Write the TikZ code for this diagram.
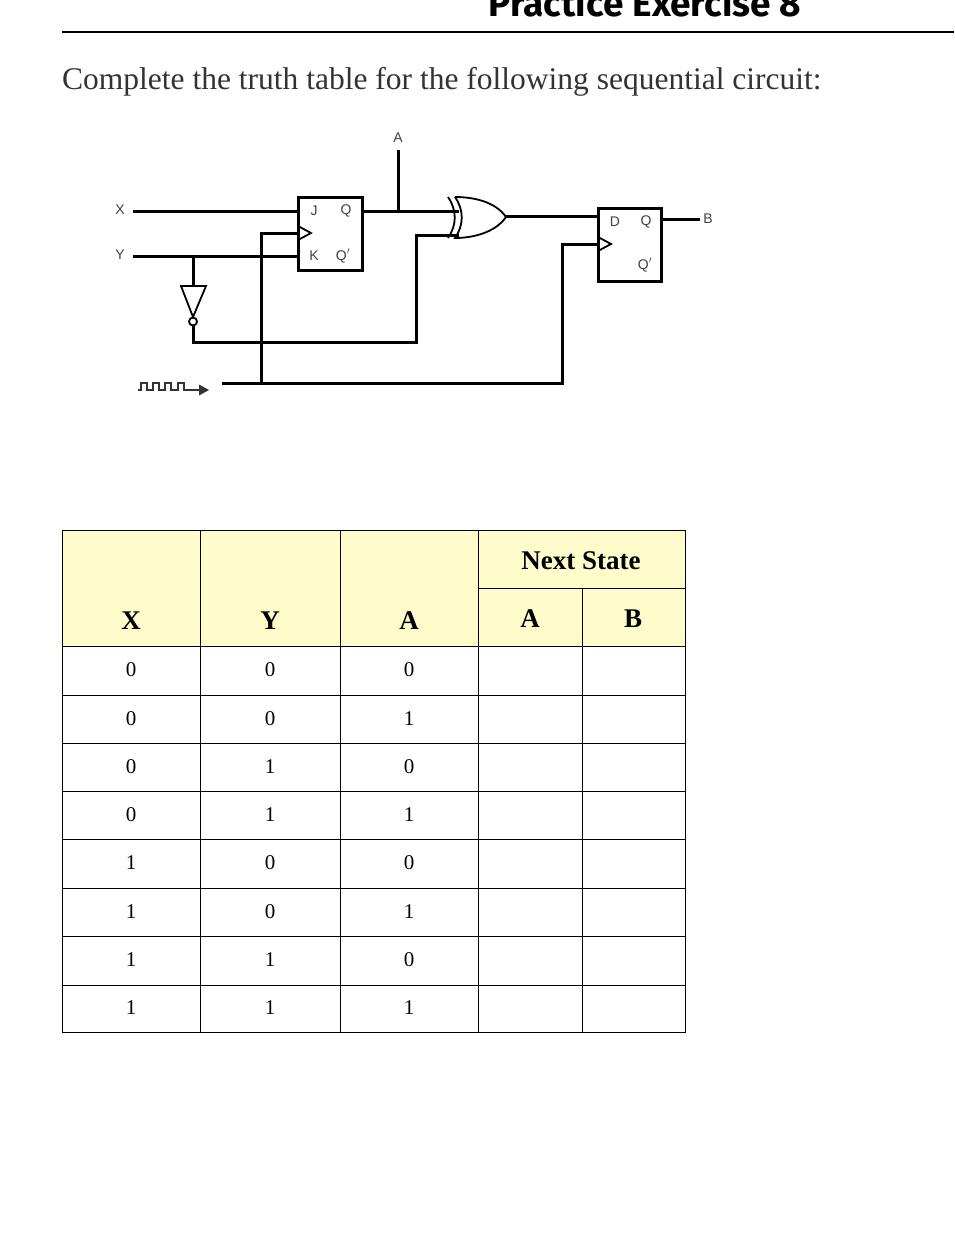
\documentclass[tikz,border=0pt]{standalone}
\usepackage{fontspec}
\setmainfont{Liberation Serif}
\newfontfamily\titlefont{Fira Sans}
\newfontfamily\csans{Liberation Sans}
\begin{document}
\begin{tikzpicture}[x=1pt,y=-1pt,
  wire/.style={line width=3pt},
  lbl/.style={font=\csans\fontsize{14}{15}\selectfont, text=black!75, inner sep=0pt},
  hdr/.style={font=\bfseries\fontsize{27}{28}\selectfont, inner sep=0pt},
  cell/.style={font=\fontsize{21}{24}\selectfont, inner sep=0pt}]
\useasboundingbox (0,0) rectangle (954,1254);
\begin{scope}
\clip (0,0) rectangle (954,1254);
\node[font=\titlefont\bfseries\fontsize{37}{38}\selectfont, anchor=base] (title) at (645,16) {Practice Exercise 8};
\end{scope}
\draw[line width=1.5pt] (62,32) -- (954,32);
\node[anchor=base west, inner sep=0pt, font=\fontsize{31.5}{33}\selectfont, text=black!80] (q) at (62,89) {Complete the truth table for the following sequential circuit:};
% JK flip-flop
\node[draw, line width=3pt, minimum width=64pt, minimum height=73pt, inner sep=0pt] (jk) at (330,233.5) {};
\node[lbl] (jl) at (314,211) {J};
\node[lbl] (jq) at (346,211) {Q};
\node[lbl] (kl) at (314,256) {K};
\node[lbl] (kq) at (343,256) {Q$'$};
\draw[line width=1.8pt] (298,226) -- (311,233) -- (298,240);
% D flip-flop
\node[draw, line width=3pt, minimum width=63pt, minimum height=73pt, inner sep=0pt] (dff) at (629.5,244.5) {};
\node[lbl] (dl) at (615,222) {D};
\node[lbl] (dq) at (646,222) {Q};
\node[lbl] (dqn) at (645,265) {Q$'$};
\draw[line width=1.8pt] (598,237) -- (611,244) -- (598,251);
% labels
\node[lbl] (xl) at (120,210) {X};
\node[lbl] (yl) at (120,255) {Y};
\node[lbl] (al) at (398,138) {A};
\node[lbl] (bl) at (708,219) {B};
% XOR
\draw[line width=1.8pt,fill=white] (455,197) .. controls (472,197) and (495,201) .. (506,217) .. controls (495,233) and (472,238) .. (455,238) .. controls (464,225) and (464,210) .. (455,197);
\draw[line width=1.8pt] (448,197) .. controls (457,210) and (457,225) .. (448,238);
% wires
\draw[wire] (133,211) -- (298,211);
\draw[wire] (133,256) -- (298,256);
\draw[wire] (362,211) -- (459,211);
\draw[wire] (398,211) -- (398,150);
\draw[wire] (506,216) -- (598,216);
\draw[wire] (661,219) -- (700,219);
% inverter
\draw[wire] (193,256) -- (193,286);
\draw[line width=1.8pt] (181,286) -- (206,286) -- (193,317) -- cycle;
\draw[line width=1.8pt] (193,321.5) circle (4);
\draw[wire] (193,325.5) -- (193,342) -- (416,342) -- (416,235) -- (459,235);
% clock
\draw[wire] (222,383) -- (562,383) -- (562,244) -- (598,244);
\draw[wire] (261,383) -- (261,233) -- (298,233);
\draw[line width=1.3pt, black!80] (138,390) -- (141,390) -- (141,383) -- (147,383) -- (147,390) -- (153,390) -- (153,383) -- (159,383) -- (159,390) -- (165,390) -- (165,383) -- (171,383) -- (171,390) -- (178,390) -- (178,383) -- (184,383) -- (184,390) -- (200,390);
\fill[black!80] (209,390) -- (199,384.5) -- (199,395.5) -- cycle;
% table
\fill[yellow!20] (62,530) rectangle (685,646);
\draw[line width=0.6pt] (62,530) rectangle (685,1032);
\foreach \xx in {200,340,478} \draw[line width=0.6pt] (\xx,530) -- (\xx,1032);
\draw[line width=0.6pt] (582,588) -- (582,1032);
\draw[line width=0.6pt] (478,588) -- (685,588);
\foreach \yy in {646,695,743,791,839,888,936,985} \draw[line width=0.6pt] (62,\yy) -- (685,\yy);
\node[hdr] (hx) at (131,621) {X};
\node[hdr] (hy) at (270,621) {Y};
\node[hdr] (ha) at (409,621) {A};
\node[hdr] (hns) at (581,561) {Next State};
\node[hdr] (hna) at (530,619) {A};
\node[hdr] (hnb) at (633,619) {B};
\foreach \r/\a/\b/\c in {0/0/0/0,1/0/0/1,2/0/1/0,3/0/1/1,4/1/0/0,5/1/0/1,6/1/1/0,7/1/1/1}{
  \node[cell] at (131,{670+48.25*\r}) {\a};
  \node[cell] at (270,{670+48.25*\r}) {\b};
  \node[cell] at (409,{670+48.25*\r}) {\c};
}
\end{tikzpicture}
\end{document}
